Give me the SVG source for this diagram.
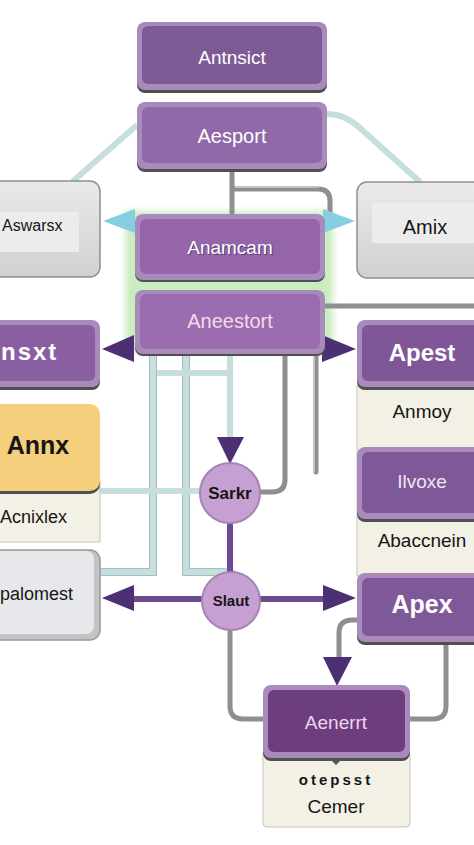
<svg xmlns="http://www.w3.org/2000/svg" width="474" height="845" viewBox="0 0 474 845">
<defs>
<style>
.t{font-family:"Liberation Sans",Arial,Helvetica,sans-serif}
.w{fill:#ffffff;text-anchor:middle}
.k{fill:#161616}
.m{text-anchor:middle}
.b{font-weight:bold}
.pb{fill:#a98bbb}
.sh{fill:#505050}
.gb{fill:url(#gg);stroke:#8f8f8f;stroke-width:1.5}
.cr{fill:#f3f0e6;stroke:#c6c3b8;stroke-width:1}
.teal{fill:none;stroke:#c7dede;stroke-width:6}
.tealE{fill:none;stroke:#a6bdbd;stroke-width:8}
.gray{fill:none;stroke:#8f8f8f;stroke-width:5;stroke-linecap:round}
.grayH{fill:none;stroke:#c2c2c2;stroke-width:2;stroke-linecap:round}
.pl{fill:none;stroke:#6d4b90;stroke-width:6}
.ah{fill:#4d2f74}
.ta{fill:#86cfe0}
</style>
<linearGradient id="gg" x1="0" y1="0" x2="0" y2="1">
<stop offset="0" stop-color="#eaeaea"/>
<stop offset="1" stop-color="#d0d0d0"/>
</linearGradient>
<filter id="blur" x="-20%" y="-20%" width="140%" height="140%"><feGaussianBlur stdDeviation="3"/></filter>
</defs>
<rect x="0" y="0" width="474" height="845" fill="#ffffff"/>

<g id="glow"><rect x="125" y="211" width="208" height="142" fill="#c9edbf" filter="url(#blur)"/></g>

<g id="connectors">
<path class="teal" d="M137,125 L72,182" stroke-width="4"/>
<path class="teal" d="M327,114 Q345,114 360,128 L420,182" stroke-width="4"/>
<path class="gray" d="M232,170 V216"/>
<path class="gray" d="M234,189 H318 Q330,189 330,201 V214"/>
<path class="grayH" d="M236,187 H318"/>
<path class="gray" d="M326,306 H474"/>
<path class="tealE" d="M153,354 V572 H100"/>
<path class="teal" d="M153,354 V572 H100"/>
<path class="tealE" d="M186,354 V572 H224 Q234,572 238,580"/>
<path class="teal" d="M186,354 V572 H224 Q234,572 238,580"/>
<path class="teal" d="M230,354 V438"/>
<path class="teal" d="M157,373 H227"/>
<path class="teal" d="M100,491 H200"/>
<path class="gray" d="M285,354 V480 Q285,492 272,492 H260"/>
<path class="gray" d="M316,354 V472"/>
<path class="grayH" d="M314,354 V472"/>
<path class="pl" d="M230,523 V572"/>
<path class="pl" d="M130,599 H202"/>
<path class="pl" d="M260,599 H326"/>
<path class="gray" d="M230,630 V706 Q230,719 243,719 H264"/>
<path class="gray" d="M446,643 V706 Q446,719 433,719 H409"/>
<path class="gray" d="M358,620 H352 Q339,620 339,633 V658"/>
<polygon class="ta" points="103,221 135,209 135,233"/>
<polygon class="ta" points="355,221 323,209 323,233"/>
<polygon class="ah" points="102,349 134,335 134,362"/>
<polygon class="ah" points="356,349 322,335 322,362"/>
<polygon class="ah" points="217,437 244,437 230,464"/>
<polygon class="ah" points="102,598 134,585 134,611"/>
<polygon class="ah" points="356,598 323,585 323,611"/>
<polygon class="ah" points="323,657 352,657 337,686"/>
</g>

<g id="antnsict">
<rect class="sh" x="137" y="25" width="190" height="68" rx="8"/>
<rect class="pb" x="137" y="22" width="190" height="68" rx="8"/>
<rect x="142" y="26" width="180" height="58" rx="6" fill="#7e5a95"/>
<text class="t w" x="232" y="64" font-size="19">Antnsict</text>
</g>

<g id="aesport">
<rect class="sh" x="137" y="105" width="190" height="67" rx="8"/>
<rect class="pb" x="137" y="102" width="190" height="67" rx="8"/>
<rect x="142" y="107" width="180" height="56" rx="6" fill="#9169a8"/>
<text class="t w" x="232" y="143" font-size="20">Aesport</text>
</g>

<g id="aswarsx">
<rect class="gb" x="-10" y="181" width="110" height="96" rx="10"/>
<rect x="0" y="212" width="79" height="40" fill="#ececec"/>
<text class="t k" x="2" y="231" font-size="16">Aswarsx</text>
</g>

<g id="amix">
<rect class="gb" x="357" y="182" width="130" height="96" rx="10"/>
<rect x="372" y="203" width="110" height="40" fill="#ececec"/>
<text class="t k m" x="425" y="234" font-size="20">Amix</text>
</g>

<g id="anamcam">
<rect class="sh" x="135" y="217" width="190" height="65" rx="8"/>
<rect class="pb" x="135" y="214" width="190" height="66" rx="8"/>
<rect x="140" y="219" width="180" height="55" rx="6" fill="#9466a9"/>
<text class="t m" x="231" y="255" font-size="19" fill="#5a3d70">Anamcam</text>
<text class="t w" x="230" y="254" font-size="19">Anamcam</text>
</g>

<g id="aneestort">
<rect class="sh" x="135" y="293" width="190" height="63" rx="8"/>
<rect class="pb" x="135" y="290" width="190" height="64" rx="8"/>
<rect x="140" y="294" width="180" height="55" rx="6" fill="#996db0"/>
<text class="t m" x="230" y="328" font-size="20" fill="#f3dbe9">Aneestort</text>
</g>

<g id="nsxt">
<rect class="sh" x="-10" y="323" width="110" height="67" rx="8"/>
<rect class="pb" x="-10" y="320" width="110" height="67" rx="8"/>
<rect x="-10" y="325" width="105" height="56" rx="6" fill="#8a5fa2"/>
<text class="t b" x="1" y="360" font-size="24" fill="#ffffff" letter-spacing="2">nsxt</text>
</g>

<g id="right-column">
<rect class="cr" x="357" y="386" width="125" height="190"/>
<text class="t k m" x="422" y="418" font-size="19">Anmoy</text>
<text class="t k m" x="422" y="547" font-size="19">Abaccnein</text>
</g>

<g id="apest">
<rect class="sh" x="357" y="323" width="130" height="67" rx="8"/>
<rect class="pb" x="357" y="320" width="130" height="67" rx="8"/>
<rect x="362" y="325" width="120" height="56" rx="6" fill="#7f5799"/>
<text class="t w b" x="422" y="361" font-size="24">Apest</text>
</g>

<g id="ilvoxe">
<rect class="sh" x="357" y="450" width="130" height="72" rx="8"/>
<rect class="pb" x="357" y="447" width="130" height="72" rx="8"/>
<rect x="362" y="452" width="120" height="61" rx="6" fill="#7e5898"/>
<text class="t m" x="422" y="488" font-size="19" fill="#efe6f5">Ilvoxe</text>
</g>

<g id="apex">
<rect class="sh" x="357" y="576" width="130" height="69" rx="8"/>
<rect class="pb" x="357" y="573" width="130" height="69" rx="8"/>
<rect x="362" y="578" width="120" height="58" rx="6" fill="#7e5898"/>
<text class="t w b" x="422" y="613" font-size="25">Apex</text>
</g>

<g id="annx">
<rect class="cr" x="-10" y="480" width="110" height="62"/>
<rect class="sh" x="-10" y="407" width="110" height="87" rx="10"/>
<rect x="-10" y="404" width="110" height="87" rx="10" fill="#f6cf7c"/>
<text class="t k b m" x="38" y="454" font-size="25">Annx</text>
<text class="t k" x="0" y="523" font-size="18">Acnixlex</text>
</g>

<g id="palomest">
<rect x="-10" y="550" width="110" height="90" rx="10" fill="#c4c4c4" stroke="#9a9a9a" stroke-width="1.5"/>
<rect x="-10" y="551" width="104" height="83" rx="8" fill="#e6e8eb"/>
<text class="t k" x="0" y="600" font-size="18">palomest</text>
</g>

<g id="sarkr">
<circle cx="230" cy="493" r="30" fill="#c6a0d2" stroke="#a784b6" stroke-width="2"/>
<text class="t k b m" x="230" y="499" font-size="17">Sarkr</text>
</g>

<g id="slaut">
<circle cx="231" cy="601" r="29" fill="#c6a0d2" stroke="#a784b6" stroke-width="2"/>
<text class="t k b m" x="231" y="606" font-size="15">Slaut</text>
</g>

<g id="aenerrt">
<rect class="cr" x="263" y="750" width="147" height="77" rx="4" stroke="#999"/>
<rect class="sh" x="263" y="688" width="147" height="73" rx="8"/>
<rect class="pb" x="263" y="685" width="147" height="73" rx="8"/>
<rect x="268" y="690" width="137" height="62" rx="6" fill="#6c3e7e"/>
<polygon points="330,759 342,759 336,765" fill="#555555"/>
<text class="t m" x="336" y="729" font-size="19" fill="#f0d6f0">Aenerrt</text>
<text class="t k b m" x="336" y="785" font-size="15" letter-spacing="3">otepsst</text>
<text class="t k m" x="336" y="813" font-size="19">Cemer</text>
</g>
</svg>
